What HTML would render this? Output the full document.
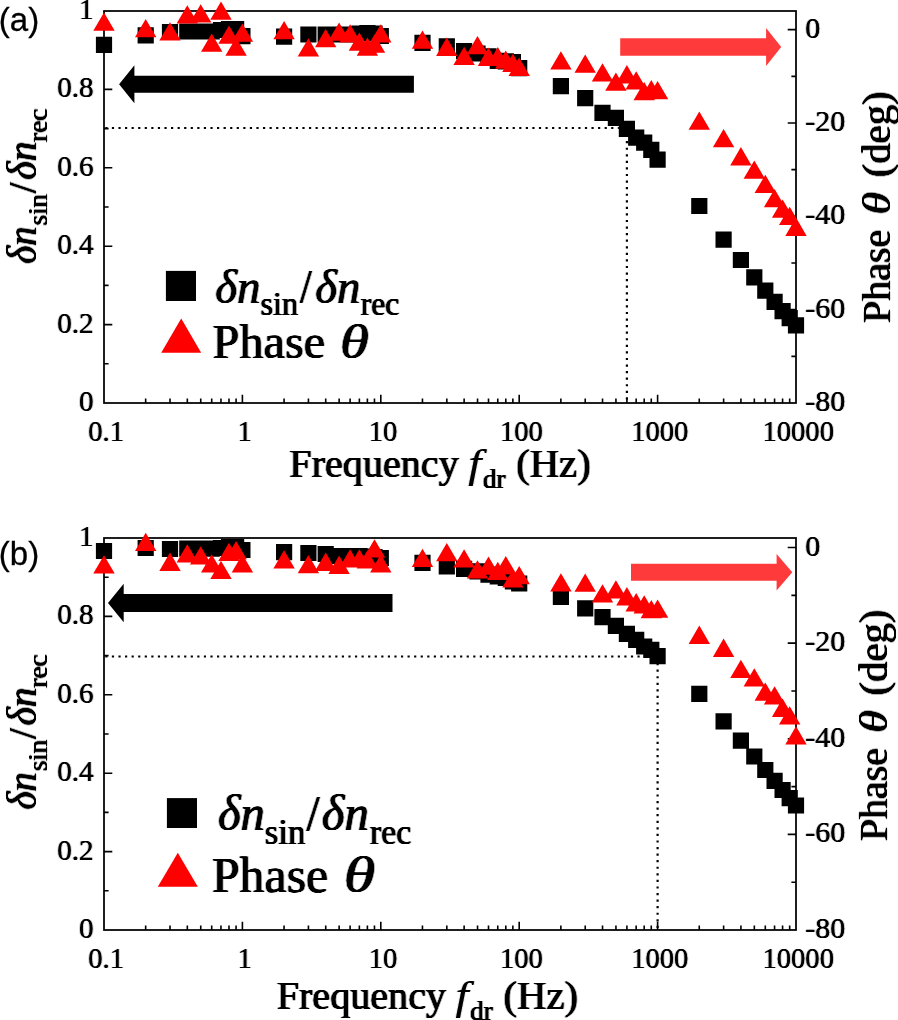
<!DOCTYPE html>
<html><head><meta charset="utf-8"><title>Figure</title>
<style>
html,body{margin:0;padding:0;background:#fff;}
svg{display:block;}
</style></head>
<body>
<svg width="898" height="1020" viewBox="0 0 898 1020">
<rect width="898" height="1020" fill="#fff"/>
<defs>
<filter id="h12" filterUnits="userSpaceOnUse" x="0" y="0" width="898" height="1020" color-interpolation-filters="sRGB"><feConvolveMatrix order="3 1" kernelMatrix="0.12 1 0.12" divisor="1" preserveAlpha="false" edgeMode="none"/></filter>
<filter id="h22" filterUnits="userSpaceOnUse" x="0" y="0" width="898" height="1020" color-interpolation-filters="sRGB"><feConvolveMatrix order="3 1" kernelMatrix="0.22 1 0.22" divisor="1" preserveAlpha="false" edgeMode="none"/></filter>
<filter id="h40" filterUnits="userSpaceOnUse" x="0" y="0" width="898" height="1020" color-interpolation-filters="sRGB"><feConvolveMatrix order="3 1" kernelMatrix="0.4 1 0.4" divisor="1" preserveAlpha="false" edgeMode="none"/></filter>
<filter id="v40" filterUnits="userSpaceOnUse" x="0" y="0" width="898" height="1020" color-interpolation-filters="sRGB"><feConvolveMatrix order="1 3" kernelMatrix="0.4 1 0.4" divisor="1" preserveAlpha="false" edgeMode="none"/></filter>
</defs>
<g id="panel-a">
<rect x="104.0" y="11" width="692.0" height="392" fill="none" stroke="#000" stroke-width="1.75"/>
<path d="M145.66 403 v-4.6 M170.03 403 v-4.6 M187.33 403 v-4.6 M200.74 403 v-4.6 M211.70 403 v-4.6 M220.96 403 v-4.6 M228.99 403 v-4.6 M236.07 403 v-4.6 M242.40 403 v-8.3 M284.06 403 v-4.6 M308.43 403 v-4.6 M325.73 403 v-4.6 M339.14 403 v-4.6 M350.10 403 v-4.6 M359.36 403 v-4.6 M367.39 403 v-4.6 M374.47 403 v-4.6 M380.80 403 v-8.3 M422.46 403 v-4.6 M446.83 403 v-4.6 M464.13 403 v-4.6 M477.54 403 v-4.6 M488.50 403 v-4.6 M497.76 403 v-4.6 M505.79 403 v-4.6 M512.87 403 v-4.6 M519.20 403 v-8.3 M560.86 403 v-4.6 M585.23 403 v-4.6 M602.53 403 v-4.6 M615.94 403 v-4.6 M626.90 403 v-4.6 M636.16 403 v-4.6 M644.19 403 v-4.6 M651.27 403 v-4.6 M657.60 403 v-8.3 M699.26 403 v-4.6 M723.63 403 v-4.6 M740.93 403 v-4.6 M754.34 403 v-4.6 M765.30 403 v-4.6 M774.56 403 v-4.6 M782.59 403 v-4.6 M789.67 403 v-4.6 M104.0 363.80 h4.6 M104.0 324.60 h8.3 M104.0 285.40 h4.6 M104.0 246.20 h8.3 M104.0 207.00 h4.6 M104.0 167.80 h8.3 M104.0 128.60 h4.6 M104.0 89.40 h8.3 M104.0 50.20 h4.6 M796.0 29.67 h-8.3 M796.0 76.33 h-4.6 M796.0 123.00 h-8.3 M796.0 169.67 h-4.6 M796.0 216.33 h-8.3 M796.0 263.00 h-4.6 M796.0 309.67 h-8.3 M796.0 356.33 h-4.6" stroke="#000" stroke-width="1.6" fill="none"/>
<path d="M105.3 128 H618.8961330530963" stroke="#000" stroke-width="2.2" stroke-dasharray="2.2 4.37" fill="none"/>
<path d="M626.90 134.5 V403" stroke="#000" stroke-width="2.2" stroke-dasharray="2.2 4.37" fill="none"/>
<path d="M95.9 36.7h16.2v16.2h-16.2zM137.6 27.2h16.2v16.2h-16.2zM161.9 23.9h16.2v16.2h-16.2zM179.2 23.4h16.2v16.2h-16.2zM192.6 23.4h16.2v16.2h-16.2zM203.6 23.4h16.2v16.2h-16.2zM212.9 21.9h16.2v16.2h-16.2zM220.9 20.9h16.2v16.2h-16.2zM228.0 20.9h16.2v16.2h-16.2zM234.3 28.1h16.2v16.2h-16.2zM276.0 28.5h16.2v16.2h-16.2zM300.3 26.4h16.2v16.2h-16.2zM317.6 26.4h16.2v16.2h-16.2zM331.0 26.4h16.2v16.2h-16.2zM342.0 26.4h16.2v16.2h-16.2zM351.3 25.4h16.2v16.2h-16.2zM359.3 24.9h16.2v16.2h-16.2zM366.4 25.4h16.2v16.2h-16.2zM372.7 27.9h16.2v16.2h-16.2zM414.4 34.7h16.2v16.2h-16.2zM438.7 38.2h16.2v16.2h-16.2zM456.0 43.0h16.2v16.2h-16.2zM469.4 45.4h16.2v16.2h-16.2zM480.4 48.3h16.2v16.2h-16.2zM489.7 52.7h16.2v16.2h-16.2zM497.7 53.2h16.2v16.2h-16.2zM504.8 53.9h16.2v16.2h-16.2zM511.1 60.0h16.2v16.2h-16.2zM552.8 78.1h16.2v16.2h-16.2zM577.1 90.0h16.2v16.2h-16.2zM594.4 104.7h16.2v16.2h-16.2zM607.8 109.8h16.2v16.2h-16.2zM618.8 120.7h16.2v16.2h-16.2zM628.1 129.5h16.2v16.2h-16.2zM636.1 134.5h16.2v16.2h-16.2zM643.2 141.7h16.2v16.2h-16.2zM649.5 151.6h16.2v16.2h-16.2zM691.2 197.9h16.2v16.2h-16.2zM715.5 231.5h16.2v16.2h-16.2zM732.8 251.9h16.2v16.2h-16.2zM746.2 269.2h16.2v16.2h-16.2zM757.2 282.5h16.2v16.2h-16.2zM766.5 293.8h16.2v16.2h-16.2zM774.5 303.1h16.2v16.2h-16.2zM781.6 310.1h16.2v16.2h-16.2zM787.9 317.2h16.2v16.2h-16.2z" fill="#000"/>
<path d="M104.0 12.5l10.7 18.3h-21.4zM145.7 18.9l10.7 18.3h-21.4zM170.0 22.3l10.7 18.3h-21.4zM187.3 5.3l10.7 18.3h-21.4zM200.7 4.2l10.7 18.3h-21.4zM211.7 33.5l10.7 18.3h-21.4zM221.0 1.5l10.7 18.3h-21.4zM229.0 25.4l10.7 18.3h-21.4zM236.1 37.5l10.7 18.3h-21.4zM242.4 23.5l10.7 18.3h-21.4zM284.1 21.0l10.7 18.3h-21.4zM308.4 38.3l10.7 18.3h-21.4zM325.7 29.0l10.7 18.3h-21.4zM339.1 22.5l10.7 18.3h-21.4zM350.1 24.2l10.7 18.3h-21.4zM359.4 32.4l10.7 18.3h-21.4zM367.4 37.4l10.7 18.3h-21.4zM374.5 34.5l10.7 18.3h-21.4zM380.8 24.2l10.7 18.3h-21.4zM422.5 30.4l10.7 18.3h-21.4zM446.8 37.6l10.7 18.3h-21.4zM464.1 46.8l10.7 18.3h-21.4zM477.5 35.9l10.7 18.3h-21.4zM488.5 47.6l10.7 18.3h-21.4zM497.8 46.9l10.7 18.3h-21.4zM505.8 50.5l10.7 18.3h-21.4zM512.9 53.7l10.7 18.3h-21.4zM519.2 57.6l10.7 18.3h-21.4zM560.9 51.2l10.7 18.3h-21.4zM585.2 54.5l10.7 18.3h-21.4zM602.5 63.2l10.7 18.3h-21.4zM615.9 72.4l10.7 18.3h-21.4zM626.9 65.1l10.7 18.3h-21.4zM636.2 71.2l10.7 18.3h-21.4zM644.2 82.0l10.7 18.3h-21.4zM651.3 80.1l10.7 18.3h-21.4zM657.6 80.9l10.7 18.3h-21.4zM699.3 111.5l10.7 18.3h-21.4zM723.6 129.0l10.7 18.3h-21.4zM740.9 147.1l10.7 18.3h-21.4zM754.3 160.5l10.7 18.3h-21.4zM765.3 174.8l10.7 18.3h-21.4zM774.6 189.0l10.7 18.3h-21.4zM782.6 199.5l10.7 18.3h-21.4zM789.7 206.8l10.7 18.3h-21.4zM796.0 217.6l10.7 18.3h-21.4z" fill="#f00"/>
<path d="M119.1 84.3L134.4 65.3V75.8H413.9V92.8H134.4V103.3z" fill="#000"/>
<path d="M781.2 47.0L766.1 27.9V38.25H620.2V55.75H766.1V66.1z" fill="#ff3a3a"/>




































<g font-family="'Liberation Serif', 'Times New Roman', serif" fill="#000" stroke="#000" stroke-width="0.15" stroke-linejoin="round">
<g filter="url(#h12)">
<text transform="translate(468.22 476.70) scale(1.1633 1)" font-size="40.7" font-style="italic">f</text>
</g>
<g filter="url(#h22)">
<text transform="translate(93.70 411.00) scale(0.972 1)" font-size="30" text-anchor="end">0</text>
<text transform="translate(93.70 332.60) scale(0.972 1)" font-size="30" text-anchor="end">0.2</text>
<text transform="translate(93.70 254.20) scale(0.972 1)" font-size="30" text-anchor="end">0.4</text>
<text transform="translate(93.70 175.80) scale(0.972 1)" font-size="30" text-anchor="end">0.6</text>
<text transform="translate(93.70 97.40) scale(0.972 1)" font-size="30" text-anchor="end">0.8</text>
<text transform="translate(93.70 19.00) scale(0.972 1)" font-size="30" text-anchor="end">1</text>
<text transform="translate(106.20 441.40) scale(0.955 1)" font-size="30" text-anchor="middle">0.1</text>
<text transform="translate(244.60 441.40) scale(0.955 1)" font-size="30" text-anchor="middle">1</text>
<text transform="translate(383.00 441.40) scale(0.955 1)" font-size="30" text-anchor="middle">10</text>
<text transform="translate(521.40 441.40) scale(0.955 1)" font-size="30" text-anchor="middle">100</text>
<text transform="translate(659.80 441.40) scale(0.955 1)" font-size="30" text-anchor="middle">1000</text>
<text transform="translate(798.20 441.40) scale(0.955 1)" font-size="30" text-anchor="middle">10000</text>
<text transform="translate(805.20 37.67) scale(1.0 1)" font-size="30" text-anchor="start">0</text>
<text transform="translate(805.20 131.00) scale(1.0 1)" font-size="30" text-anchor="start">-20</text>
<text transform="translate(805.20 224.33) scale(1.0 1)" font-size="30" text-anchor="start">-40</text>
<text transform="translate(805.20 317.67) scale(1.0 1)" font-size="30" text-anchor="start">-60</text>
<text transform="translate(805.20 411.00) scale(1.0 1)" font-size="30" text-anchor="start">-80</text>
</g>
<g filter="url(#h40)">
<text transform="translate(289.37 476.70) scale(0.9860 1)" font-size="40.7">Frequency</text>
<text transform="translate(482.93 488.00) scale(0.9652 1)" font-size="28">dr</text>
<text transform="translate(516.14 476.70) scale(1.0004 1)" font-size="40.7">(Hz)</text>
<text transform="translate(215.16 302.90) scale(0.9592 1)" font-size="49" font-style="italic">δn</text>
<text transform="translate(260.39 315.20) scale(0.9765 1)" font-size="33">sin</text>
<text transform="translate(299.88 302.90) scale(0.8568 1)" font-size="49">/</text>
<text transform="translate(315.17 302.90) scale(0.9547 1)" font-size="49" font-style="italic">δn</text>
<text transform="translate(360.64 315.20) scale(0.9622 1)" font-size="33">rec</text>
<text transform="translate(212.55 357.60) scale(0.9847 1)" font-size="49">Phase</text>
<text transform="translate(339.98 357.60) scale(1.2026 1)" font-size="49" font-style="italic">θ</text>
</g>
<g filter="url(#v40)">
<text transform="translate(35.70 263.68) rotate(-90) scale(0.8921 1)" font-size="43.142" font-style="italic">δn</text>
<text transform="translate(46.80 225.19) rotate(-90) scale(0.9486 1)" font-size="28">sin</text>
<text transform="translate(35.70 193.22) rotate(-90) scale(0.9341 1)" font-size="40.7">/</text>
<text transform="translate(35.70 179.71) rotate(-90) scale(0.9155 1)" font-size="43.142" font-style="italic">δn</text>
<text transform="translate(46.80 141.97) rotate(-90) scale(0.9814 1)" font-size="28">rec</text>
<text transform="translate(890.30 322.92) rotate(-90) scale(0.9812 1)" font-size="40.7">Phase</text>
<text transform="translate(890.30 214.72) rotate(-90) scale(1.1378 1)" font-size="40.7" font-style="italic">θ</text>
<text transform="translate(890.30 177.36) rotate(-90) scale(1.0016 1)" font-size="40.7">(deg)</text>
</g>
</g>
<rect x="165.9" y="270.9" width="30.1" height="30.1" fill="#000"/>
<path d="M181.2 318.5L201.2 352.7H161.2z" fill="#f00"/>
</g>
<g id="panel-b">
<rect x="104.0" y="538" width="692.0" height="392" fill="none" stroke="#000" stroke-width="1.75"/>
<path d="M145.66 930 v-4.6 M170.03 930 v-4.6 M187.33 930 v-4.6 M200.74 930 v-4.6 M211.70 930 v-4.6 M220.96 930 v-4.6 M228.99 930 v-4.6 M236.07 930 v-4.6 M242.40 930 v-8.3 M284.06 930 v-4.6 M308.43 930 v-4.6 M325.73 930 v-4.6 M339.14 930 v-4.6 M350.10 930 v-4.6 M359.36 930 v-4.6 M367.39 930 v-4.6 M374.47 930 v-4.6 M380.80 930 v-8.3 M422.46 930 v-4.6 M446.83 930 v-4.6 M464.13 930 v-4.6 M477.54 930 v-4.6 M488.50 930 v-4.6 M497.76 930 v-4.6 M505.79 930 v-4.6 M512.87 930 v-4.6 M519.20 930 v-8.3 M560.86 930 v-4.6 M585.23 930 v-4.6 M602.53 930 v-4.6 M615.94 930 v-4.6 M626.90 930 v-4.6 M636.16 930 v-4.6 M644.19 930 v-4.6 M651.27 930 v-4.6 M657.60 930 v-8.3 M699.26 930 v-4.6 M723.63 930 v-4.6 M740.93 930 v-4.6 M754.34 930 v-4.6 M765.30 930 v-4.6 M774.56 930 v-4.6 M782.59 930 v-4.6 M789.67 930 v-4.6 M104.0 890.80 h4.6 M104.0 851.60 h8.3 M104.0 812.40 h4.6 M104.0 773.20 h8.3 M104.0 734.00 h4.6 M104.0 694.80 h8.3 M104.0 655.60 h4.6 M104.0 616.40 h8.3 M104.0 577.20 h4.6 M796.0 547.56 h-8.3 M796.0 595.37 h-4.6 M796.0 643.17 h-8.3 M796.0 690.98 h-4.6 M796.0 738.78 h-8.3 M796.0 786.59 h-4.6 M796.0 834.39 h-8.3 M796.0 882.20 h-4.6" stroke="#000" stroke-width="1.6" fill="none"/>
<path d="M105.3 656.5 H649.6" stroke="#000" stroke-width="2.2" stroke-dasharray="2.2 4.37" fill="none"/>
<path d="M657.60 663.0 V930" stroke="#000" stroke-width="2.2" stroke-dasharray="2.2 4.37" fill="none"/>
<path d="M95.9 542.9h16.2v16.2h-16.2zM137.6 539.9h16.2v16.2h-16.2zM161.9 540.9h16.2v16.2h-16.2zM179.2 540.6h16.2v16.2h-16.2zM192.6 540.6h16.2v16.2h-16.2zM203.6 540.6h16.2v16.2h-16.2zM212.9 539.9h16.2v16.2h-16.2zM220.9 538.9h16.2v16.2h-16.2zM228.0 538.9h16.2v16.2h-16.2zM234.3 541.9h16.2v16.2h-16.2zM276.0 544.1h16.2v16.2h-16.2zM300.3 544.9h16.2v16.2h-16.2zM317.6 545.9h16.2v16.2h-16.2zM331.0 547.9h16.2v16.2h-16.2zM342.0 547.9h16.2v16.2h-16.2zM351.3 547.9h16.2v16.2h-16.2zM359.3 548.4h16.2v16.2h-16.2zM366.4 548.9h16.2v16.2h-16.2zM372.7 549.9h16.2v16.2h-16.2zM414.4 554.7h16.2v16.2h-16.2zM438.7 558.2h16.2v16.2h-16.2zM456.0 560.7h16.2v16.2h-16.2zM469.4 563.2h16.2v16.2h-16.2zM480.4 566.5h16.2v16.2h-16.2zM489.7 568.2h16.2v16.2h-16.2zM497.7 569.9h16.2v16.2h-16.2zM504.8 573.2h16.2v16.2h-16.2zM511.1 575.4h16.2v16.2h-16.2zM552.8 588.7h16.2v16.2h-16.2zM577.1 600.2h16.2v16.2h-16.2zM594.4 609.1h16.2v16.2h-16.2zM607.8 617.8h16.2v16.2h-16.2zM618.8 625.7h16.2v16.2h-16.2zM628.1 631.7h16.2v16.2h-16.2zM636.1 638.4h16.2v16.2h-16.2zM643.2 641.7h16.2v16.2h-16.2zM649.5 648.1h16.2v16.2h-16.2zM691.2 685.8h16.2v16.2h-16.2zM715.5 713.3h16.2v16.2h-16.2zM732.8 732.5h16.2v16.2h-16.2zM746.2 748.4h16.2v16.2h-16.2zM757.2 761.9h16.2v16.2h-16.2zM766.5 772.8h16.2v16.2h-16.2zM774.5 781.9h16.2v16.2h-16.2zM781.6 790.1h16.2v16.2h-16.2zM787.9 797.4h16.2v16.2h-16.2z" fill="#000"/>
<path d="M104.0 555.2l10.7 18.3h-21.4zM145.7 532.8l10.7 18.3h-21.4zM170.0 552.6l10.7 18.3h-21.4zM187.3 544.3l10.7 18.3h-21.4zM200.7 546.2l10.7 18.3h-21.4zM211.7 554.2l10.7 18.3h-21.4zM221.0 560.8l10.7 18.3h-21.4zM229.0 542.8l10.7 18.3h-21.4zM236.1 541.0l10.7 18.3h-21.4zM242.4 554.2l10.7 18.3h-21.4zM284.1 550.2l10.7 18.3h-21.4zM308.4 555.0l10.7 18.3h-21.4zM325.7 552.6l10.7 18.3h-21.4zM339.1 555.6l10.7 18.3h-21.4zM350.1 549.2l10.7 18.3h-21.4zM359.4 549.2l10.7 18.3h-21.4zM367.4 550.2l10.7 18.3h-21.4zM374.5 539.2l10.7 18.3h-21.4zM380.8 554.3l10.7 18.3h-21.4zM422.5 548.7l10.7 18.3h-21.4zM446.8 543.0l10.7 18.3h-21.4zM464.1 549.2l10.7 18.3h-21.4zM477.5 560.3l10.7 18.3h-21.4zM488.5 556.5l10.7 18.3h-21.4zM497.8 561.7l10.7 18.3h-21.4zM505.8 556.0l10.7 18.3h-21.4zM512.9 569.3l10.7 18.3h-21.4zM519.2 566.0l10.7 18.3h-21.4zM560.9 573.2l10.7 18.3h-21.4zM585.2 573.5l10.7 18.3h-21.4zM602.5 584.3l10.7 18.3h-21.4zM615.9 580.2l10.7 18.3h-21.4zM626.9 587.1l10.7 18.3h-21.4zM636.2 593.1l10.7 18.3h-21.4zM644.2 595.2l10.7 18.3h-21.4zM651.3 600.0l10.7 18.3h-21.4zM657.6 599.4l10.7 18.3h-21.4zM699.3 625.6l10.7 18.3h-21.4zM723.6 638.6l10.7 18.3h-21.4zM740.9 659.8l10.7 18.3h-21.4zM754.3 668.2l10.7 18.3h-21.4zM765.3 682.4l10.7 18.3h-21.4zM774.6 686.2l10.7 18.3h-21.4zM782.6 698.6l10.7 18.3h-21.4zM789.7 706.2l10.7 18.3h-21.4zM796.0 726.2l10.7 18.3h-21.4z" fill="#f00"/>
<path d="M108 603L123.7 583.8V594.1H392.5V611.9H123.7V622.2z" fill="#000"/>
<path d="M792.3 572.2L776.6 553.9000000000001V563.7H631V580.7H776.6V590.5z" fill="#ff3a3a"/>




































<g font-family="'Liberation Serif', 'Times New Roman', serif" fill="#000" stroke="#000" stroke-width="0.15" stroke-linejoin="round">
<g filter="url(#h12)">
<text transform="translate(455.52 1009.00) scale(1.1633 1)" font-size="40.7" font-style="italic">f</text>
</g>
<g filter="url(#h22)">
<text transform="translate(93.70 938.00) scale(0.972 1)" font-size="30" text-anchor="end">0</text>
<text transform="translate(93.70 859.60) scale(0.972 1)" font-size="30" text-anchor="end">0.2</text>
<text transform="translate(93.70 781.20) scale(0.972 1)" font-size="30" text-anchor="end">0.4</text>
<text transform="translate(93.70 702.80) scale(0.972 1)" font-size="30" text-anchor="end">0.6</text>
<text transform="translate(93.70 624.40) scale(0.972 1)" font-size="30" text-anchor="end">0.8</text>
<text transform="translate(93.70 546.00) scale(0.972 1)" font-size="30" text-anchor="end">1</text>
<text transform="translate(106.20 968.40) scale(0.955 1)" font-size="30" text-anchor="middle">0.1</text>
<text transform="translate(244.60 968.40) scale(0.955 1)" font-size="30" text-anchor="middle">1</text>
<text transform="translate(383.00 968.40) scale(0.955 1)" font-size="30" text-anchor="middle">10</text>
<text transform="translate(521.40 968.40) scale(0.955 1)" font-size="30" text-anchor="middle">100</text>
<text transform="translate(659.80 968.40) scale(0.955 1)" font-size="30" text-anchor="middle">1000</text>
<text transform="translate(798.20 968.40) scale(0.955 1)" font-size="30" text-anchor="middle">10000</text>
<text transform="translate(805.20 555.56) scale(1.0 1)" font-size="30" text-anchor="start">0</text>
<text transform="translate(805.20 651.17) scale(1.0 1)" font-size="30" text-anchor="start">-20</text>
<text transform="translate(805.20 746.78) scale(1.0 1)" font-size="30" text-anchor="start">-40</text>
<text transform="translate(805.20 842.39) scale(1.0 1)" font-size="30" text-anchor="start">-60</text>
<text transform="translate(805.20 938.00) scale(1.0 1)" font-size="30" text-anchor="start">-80</text>
</g>
<g filter="url(#h40)">
<text transform="translate(276.67 1009.00) scale(0.9860 1)" font-size="40.7">Frequency</text>
<text transform="translate(470.23 1020.30) scale(0.9652 1)" font-size="28">dr</text>
<text transform="translate(503.44 1009.00) scale(1.0004 1)" font-size="40.7">(Hz)</text>
<text transform="translate(217.91 830.20) scale(0.9737 1)" font-size="50" font-style="italic">δn</text>
<text transform="translate(264.78 844.30) scale(0.9952 1)" font-size="35">sin</text>
<text transform="translate(306.38 830.20) scale(0.9405 1)" font-size="50">/</text>
<text transform="translate(321.71 830.20) scale(0.9759 1)" font-size="50" font-style="italic">δn</text>
<text transform="translate(370.00 844.30) scale(0.9658 1)" font-size="35">rec</text>
<text transform="translate(211.90 892.30) scale(0.9967 1)" font-size="50">Phase</text>
<text transform="translate(343.83 892.30) scale(1.2833 1)" font-size="50" font-style="italic">θ</text>
</g>
<g filter="url(#v40)">
<text transform="translate(36.30 809.48) rotate(-90) scale(0.8921 1)" font-size="43.142" font-style="italic">δn</text>
<text transform="translate(47.40 770.99) rotate(-90) scale(0.9486 1)" font-size="28">sin</text>
<text transform="translate(36.30 739.02) rotate(-90) scale(0.9341 1)" font-size="40.7">/</text>
<text transform="translate(36.30 725.51) rotate(-90) scale(0.9155 1)" font-size="43.142" font-style="italic">δn</text>
<text transform="translate(47.40 687.77) rotate(-90) scale(0.9814 1)" font-size="28">rec</text>
<text transform="translate(886.80 841.12) rotate(-90) scale(0.9812 1)" font-size="40.7">Phase</text>
<text transform="translate(886.80 732.92) rotate(-90) scale(1.1378 1)" font-size="40.7" font-style="italic">θ</text>
<text transform="translate(886.80 695.56) rotate(-90) scale(1.0016 1)" font-size="40.7">(deg)</text>
</g>
</g>
<rect x="166.9" y="798.1" width="30.1" height="29.9" fill="#000"/>
<path d="M177.8 852.7L197.8 886.7H157.8z" fill="#f00"/>
</g>
<g font-family="'Liberation Sans', Arial, sans-serif" font-size="33" fill="#000" stroke="#000" stroke-width="0.3">
<text x="-1.2" y="30.6">(a)</text>
<text x="-1.2" y="565.1">(b)</text>
</g>
</svg>
</body></html>
